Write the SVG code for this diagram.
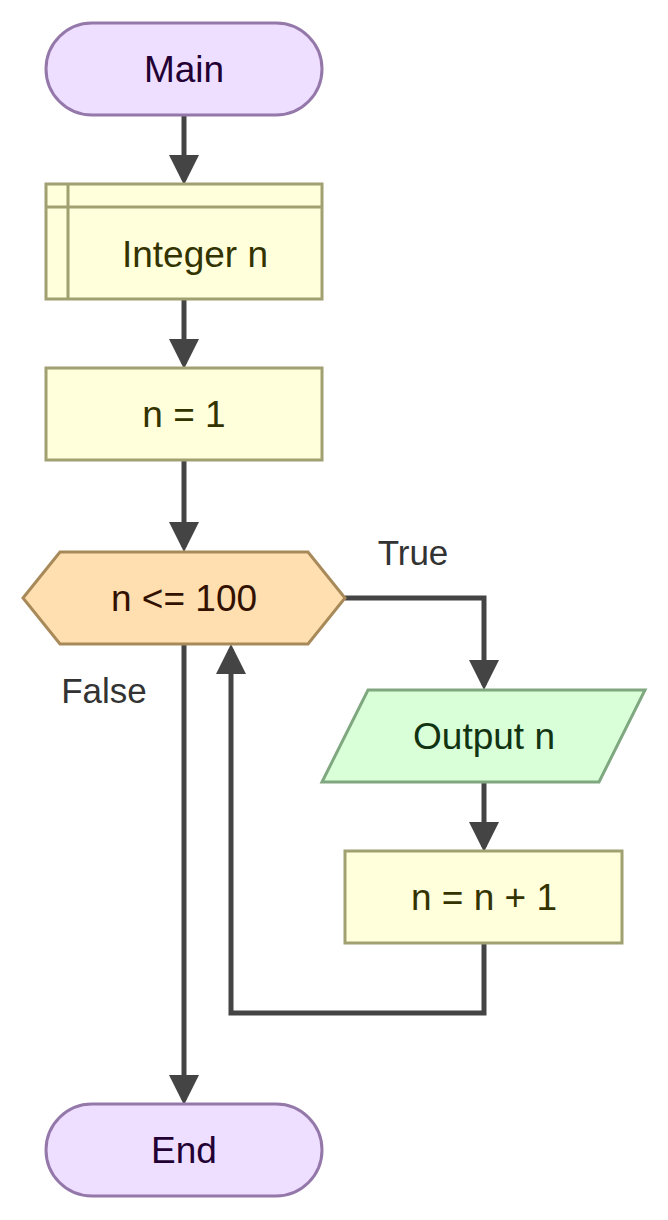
<svg xmlns="http://www.w3.org/2000/svg" width="668" height="1220" viewBox="0 0 668 1220">
<style>
text{font-family:"Liberation Sans",Arial,sans-serif;font-size:37px;text-anchor:middle;dominant-baseline:central}
.term{fill:#eedeff;stroke:#9478aa;stroke-width:3}
.proc{fill:#ffffdc;stroke:#a0a070;stroke-width:3}
.dec{fill:#ffdfb0;stroke:#a88a5a;stroke-width:3}
.io{fill:#d8ffd8;stroke:#80a880;stroke-width:3}
.c{fill:none;stroke:#444;stroke-width:5}
.lbl{fill:#333;font-size:35px}
</style>
<defs><marker id="a" markerWidth="6" markerHeight="6" refX="5" refY="3" orient="auto" markerUnits="strokeWidth"><path d="M0,0L6,3L0,6z" fill="#444"/></marker></defs>
<g id="connectors">
<path class="c" d="M184,115V180" marker-end="url(#a)"/>
<path class="c" d="M184,299V364" marker-end="url(#a)"/>
<path class="c" d="M184,460V547" marker-end="url(#a)"/>
<path class="c" d="M345,598H484V685" marker-end="url(#a)"/>
<path class="c" d="M484,782V847" marker-end="url(#a)"/>
<path class="c" d="M484,943V1013H231V649" marker-end="url(#a)"/>
<path class="c" d="M184,644V1100" marker-end="url(#a)"/>
<text class="lbl" x="413" y="552">True</text>
<text class="lbl" x="104" y="690">False</text>
</g>
<g id="main"><rect class="term" x="46" y="23" width="276" height="92" rx="46"/><text x="184" y="69" fill="#220033">Main</text></g>
<g id="decl"><rect class="proc" x="46" y="184" width="276" height="115"/><path d="M68,184V299M46,207H322" stroke="#a0a070" stroke-width="3"/><text x="195" y="254" fill="#333300">Integer n</text></g>
<g id="assign"><rect class="proc" x="46" y="368" width="276" height="92"/><text x="184" y="414" fill="#333300">n = 1</text></g>
<g id="cond"><polygon class="dec" points="23,598 60,552 308,552 345,598 308,644 60,644"/><text x="184" y="598" fill="#331100">n &lt;= 100</text></g>
<g id="output"><polygon class="io" points="368,690 645,690 599,782 322,782"/><text x="484" y="736" fill="#113311">Output n</text></g>
<g id="inc"><rect class="proc" x="345" y="851" width="277" height="92"/><text x="484" y="897" fill="#333300">n = n + 1</text></g>
<g id="end"><rect class="term" x="46" y="1104" width="276" height="92" rx="46"/><text x="184" y="1150" fill="#220033">End</text></g>
</svg>
